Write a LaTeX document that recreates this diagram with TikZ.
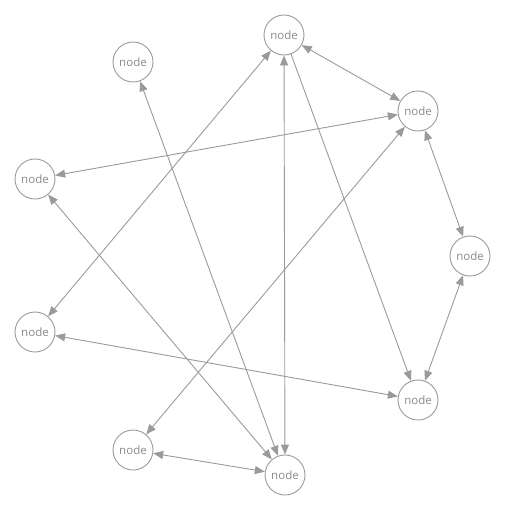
\documentclass[tikz,border=0pt]{standalone}
\usepackage{fontspec}
\setsansfont{Open Sans}
\usepackage{tikz}
\usetikzlibrary{arrows.meta}

\definecolor{linkgray}{HTML}{9A9A9A}
\definecolor{textgray}{HTML}{8A8A8A}

\begin{document}
\begin{tikzpicture}[
        x=1pt, y=-1pt,
        graphnode/.style={circle,draw=linkgray,line width=0.9pt,minimum size=40pt,inner sep=0pt,text=textgray,font=\sffamily\fontsize{11.5}{13}\selectfont},
        link/.style={draw=linkgray,line width=0.9pt,{Triangle[length=10pt,width=8pt]}-{Triangle[length=10pt,width=8pt]}},
        onelink/.style={draw=linkgray,line width=0.9pt,-{Triangle[length=10pt,width=8pt]}},
        ]
        \useasboundingbox (0,0) rectangle (506,512);

        \node[graphnode](upleft) at (133,62){node};
        \node[graphnode](top) at (284,35){node};
        \node[graphnode](upright) at (418,111){node};
        \node[graphnode](left) at (35,179){node};
        \node[graphnode](right) at (470,256){node};
        \node[graphnode](lowleft) at (35,332){node};
        \node[graphnode](lowright) at (418,400){node};
        \node[graphnode](bottomleft) at (133,450){node};
        \node[graphnode](bottom) at (285,475){node};

        % ring round the right side
        \draw[link] (top) -- (upright);
        \draw[link] (upright) -- (right);
        \draw[link] (right) -- (lowright);
        \draw[link] (bottomleft) -- (bottom);

        % long crossings
        \draw[link] (upright) -- (left);
        \draw[link] (upright) -- (bottomleft);
        \draw[link] (upleft) -- (bottom);
        \draw[link] (top) -- (bottom);
        \draw[link] (top) -- (lowleft);
        \draw[link] (left) -- (bottom);
        \draw[link] (lowleft) -- (lowright);
        \draw[onelink] (top) -- (lowright);

\end{tikzpicture}
\end{document}
